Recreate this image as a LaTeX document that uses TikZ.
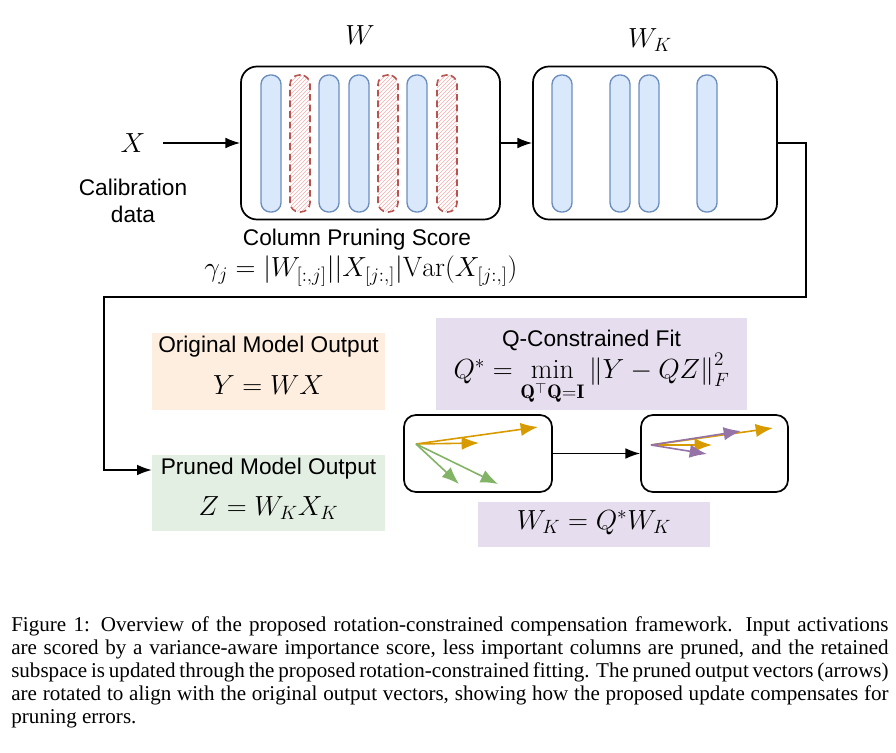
\documentclass[tikz,border=0pt]{standalone}
\usepackage{fontspec}
\usepackage{amsmath,amssymb}
\setsansfont{Liberation Sans}
\newfontfamily\capfont{Liberation Serif}
\usetikzlibrary{patterns,arrows.meta}
\definecolor{bfill}{HTML}{DAE8FC}\definecolor{bline}{HTML}{6C8EBF}
\definecolor{rline}{HTML}{B85450}\definecolor{rhatch}{HTML}{F2AFAD}
\definecolor{ofill}{HTML}{FDEEDF}\definecolor{gfill}{HTML}{E3EFE2}
\definecolor{pfill}{HTML}{E6DEEE}
\definecolor{vor}{HTML}{D79B00}\definecolor{vgr}{HTML}{82B366}\definecolor{vpu}{HTML}{9673A6}
\begin{document}
\begin{tikzpicture}[x=0.75pt,y=-0.75pt,
 box/.style={draw,line width=1.3pt,rounded corners=12pt},
 kept/.style={draw=bline,fill=bfill,line width=1pt,rounded corners=7pt,minimum width=15pt,minimum height=102.75pt,inner sep=0pt},
 pruned/.style={draw=rline,dashed,dash pattern=on 5pt off 3pt,line width=1.2pt,rounded corners=7pt,pattern=north east lines,pattern color=rhatch,minimum width=15pt,minimum height=102.75pt,inner sep=0pt},
 lbl/.style={font=\sffamily\fontsize{17}{19}\selectfont},
 mth/.style={font=\fontsize{21}{23}\selectfont},
 conn/.style={line width=1pt,-{Latex[length=11pt,width=8pt]}},
 vec/.style={line width=1.2pt,-{Latex[length=13pt,width=10pt]}}]
\useasboundingbox (0,0) rectangle (896,753);
% W box
\node[box,minimum width=194.25pt,minimum height=114.75pt] (W) at (370.5,143) {};
\node[mth] (Wl) at (360,35) {$W$};
\foreach \x/\t [count=\i] in {271/kept,300/pruned,329/kept,359/kept,388/pruned,417/kept,447/pruned}
  \node[\t] (c\i) at (\x,143.5) {};
\node[box,minimum width=183pt,minimum height=114.75pt] (WK) at (655,143) {};
\node[mth] (WKl) at (650,40) {$W_K$};
\foreach \x [count=\i] in {562,620,649,707}
  \node[kept] (k\i) at (\x,143.5) {};
\node[mth] (X) at (133,143) {$X$};
\node[lbl,align=center] (cal) at (133,201) {Calibration\\[1pt]data};
\coordinate (xs) at (163,143);
\draw[conn] (xs) -- (W.west);
\draw[conn] (W.east) -- (WK.west);
\node[lbl] (cps) at (357,240) {Column Pruning Score};
\node[mth] (gam) at (361,271) {$\gamma_j = |W_{[:,j]}||X_{[j:,]}|\mathrm{Var}(X_{[j:,]})$};
% outputs
\node[fill=ofill,minimum width=174.75pt,minimum height=57.75pt] (orig) at (268.5,371.5) {};
\node[lbl] (ot) at (268.5,347) {Original Model Output};
\node[mth] (oy) at (268.5,385) {$Y = WX$};
\node[fill=gfill,minimum width=174.75pt,minimum height=57pt] (pr) at (268.5,493) {};
\node[lbl] (pt) at (268.5,469) {Pruned Model Output};
\node[mth] (pz) at (268.5,508) {$Z = W_K X_K$};
\coordinate (pin) at (pr.west |- 0,470);
\draw[conn] (WK.east) -| (806,297) -| (104,470) -- (pin);
% Q fit
\node[fill=pfill,minimum width=233.25pt,minimum height=69pt] (qf) at (591.5,364) {};
\node[lbl] (qt) at (591.5,340) {Q-Constrained Fit};
\node[mth] (qe) at (591.5,379) {$Q^* = \min\limits_{\mathbf{Q}^\top\mathbf{Q}=\mathbf{I}} \left\| Y - QZ \right\|_F^2$};
\node[fill=pfill,minimum width=174pt,minimum height=33.75pt] (up) at (594,524.5) {};
\node[mth] (ue) at (594,523) {$W_K = Q^* W_K$};
% vector boxes
\node[box,rounded corners=9pt,minimum width=111pt,minimum height=57.75pt] (v1) at (478,453.5) {};
\node[box,rounded corners=9pt,minimum width=110.25pt,minimum height=57.75pt] (v2) at (714.5,453.5) {};
\draw[conn] (v1.east) -- (v2.west);
\coordinate (o1) at (416,444);
\coordinate (e1) at (538,427);\coordinate (e2) at (479,443);
\coordinate (e3) at (459,484);\coordinate (e4) at (498,484);
\draw[vec,vor] (o1) -- (e1); \draw[vec,vor] (o1) -- (e2);
\draw[vec,vgr] (o1) -- (e3); \draw[vec,vgr] (o1) -- (e4);
\coordinate (o2) at (651,445);
\coordinate (f1) at (773,428);\coordinate (f2) at (712,445);
\coordinate (f3) at (741,431);\coordinate (f4) at (707,454);
\draw[vec,vor] (o2) -- (f1); \draw[vec,vor] (o2) -- (f2);
\draw[vec,vpu] (o2) -- (f3); \draw[vec,vpu] (o2) -- (f4);
% caption
\node[anchor=north west,inner sep=0pt,text width=658pt,align=justify,font=\capfont\fontsize{15.8}{17.3}\selectfont] (cap) at (11,616) {Figure 1: Overview of the proposed rotation-constrained compensation framework. Input activations are scored by a variance-aware importance score, less important columns are pruned, and the retained subspace is updated through the proposed rotation-constrained fitting. The pruned output vectors (arrows) are rotated to align with the original output vectors, showing how the proposed update compensates for pruning errors.};
\end{tikzpicture}
\end{document}
